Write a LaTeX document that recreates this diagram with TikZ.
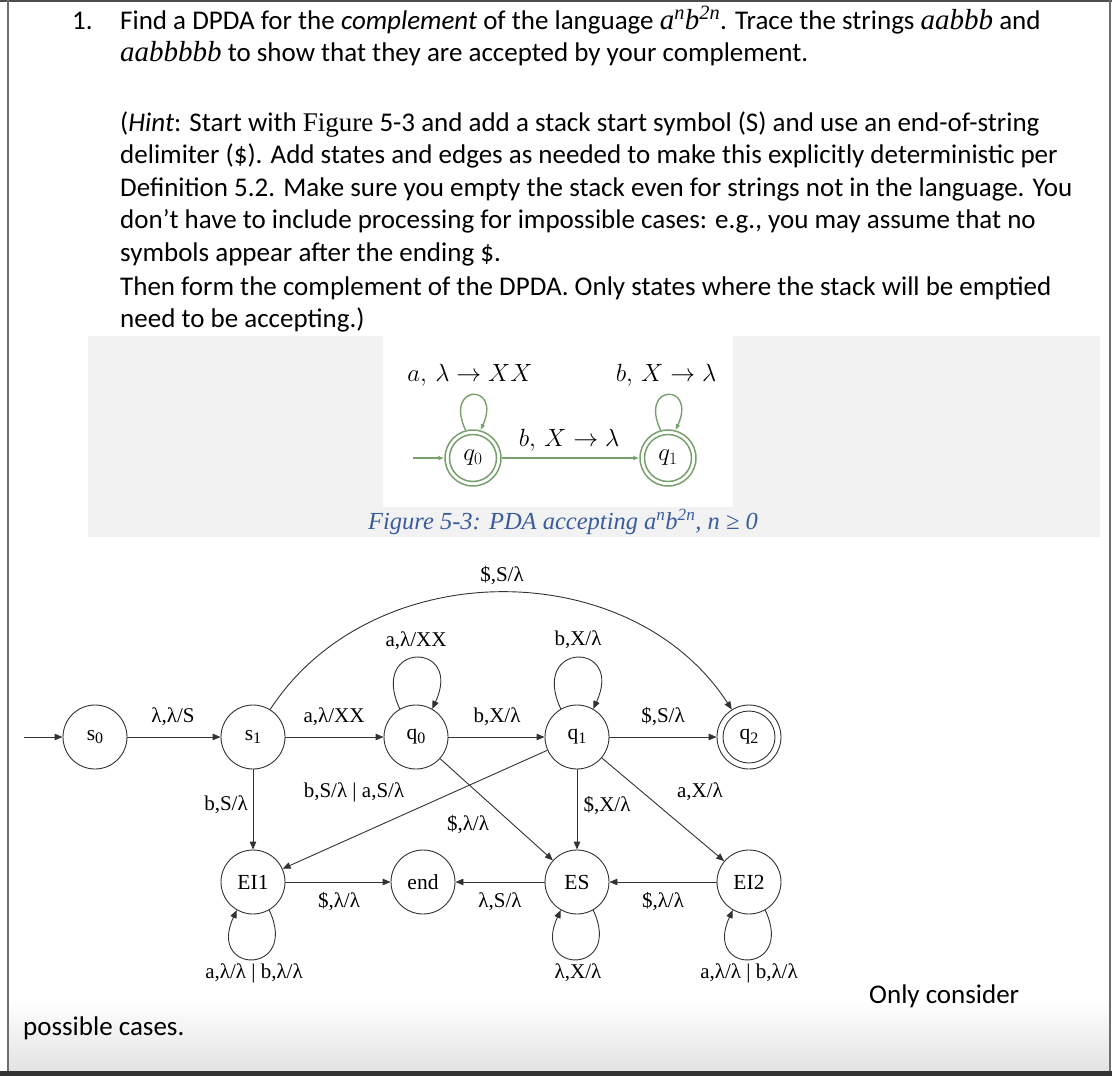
\documentclass[tikz,border=0pt]{standalone}
\usepackage{fontspec}
\setmainfont{Carlito}
\newfontfamily\tms{Liberation Serif}
\usetikzlibrary{arrows.meta}
\definecolor{figgreen}{RGB}{120,160,108}
\definecolor{capblue}{RGB}{58,92,158}
\definecolor{boxgray}{RGB}{242,242,242}
\definecolor{ink}{RGB}{50,50,50}
\definecolor{framegray}{RGB}{110,110,110}
\newcommand\lowsub[1]{\raisebox{-3.5pt}{\fontsize{16}{16}\selectfont #1}}
\newcommand\mth[1]{{\tms\itshape\fontsize{29}{32}\selectfont #1}}
\begin{document}
\begin{tikzpicture}[x=1pt,y=1pt,
  txt/.style={anchor=base west,inner sep=0pt,font=\fontsize{27}{32}\selectfont,text=black},
  st/.style={circle,draw=ink,line width=0.9pt,minimum size=64pt,inner sep=0pt,font=\tms\fontsize{21.5}{24}\selectfont,text=black},
  lab/.style={inner sep=0pt,font=\tms\fontsize{21}{24}\selectfont,text=black},
  arr/.style={draw=ink,line width=0.9pt,-{Triangle[length=8pt,width=6.5pt]}},
  gst/.style={circle,draw=figgreen,line width=1.5pt,minimum size=56pt,inner sep=0pt,font=\fontsize{23}{26}\selectfont},
  garr/.style={draw=figgreen,line width=1.4pt,-{Latex[length=6pt,width=5pt]}},
  glab/.style={inner sep=0pt,font=\fontsize{24}{28}\selectfont},
]
\useasboundingbox (0,0) rectangle (1112,-1076);
\fill[white] (0,0) rectangle (1112,-1076);
\shade[top color=white,bottom color=black!11] (8,-1000) rectangle (1109,-1071);
\fill[boxgray] (88,-336) rectangle (1100,-537);
\fill[white] (383,-336) rectangle (733,-507);
\fill[black!80] (0,-1071) rectangle (1112,-1076);
\fill[black!70] (0,0) rectangle (1112,-2);
\draw[framegray,line width=2pt] (7.7,0) -- (7.7,-1071);
\draw[framegray,line width=2pt] (1109.5,0) -- (1109.5,-1071);

% ---- text ----
\node[txt] (n1) at (72,-29) {1.};
\node[txt] (t1) at (120,-29) {Find a DPDA for the \emph{complement} of the language \mth{a\textsuperscript{n}b\textsuperscript{2n}}. Trace the strings \mth{aabbb} and};
\node[txt] (t2) at (120,-61.5) {\mth{aabbbbb} to show that they are accepted by your complement.};
\node[txt] (h1) at (120,-131) {(\emph{Hint}: Start with {\tms Figure} 5-3 and add a stack start symbol (S) and use an end-of-string};
\node[txt] (h2) at (120,-163.5) {delimiter (\$). Add states and edges as needed to make this explicitly deterministic per};
\node[txt] (h3) at (120,-196) {Definition 5.2. Make sure you empty the stack even for strings not in the language. You};
\node[txt] (h4) at (120,-228.5) {don’t have to include processing for impossible cases: e.g., you may assume that no};
\node[txt] (h5) at (120,-261) {symbols appear after the ending \$.};
\node[txt] (h6) at (120,-295) {Then form the complement of the DPDA. Only states where the stack will be emptied};
\node[txt] (h7) at (120,-327) {need to be accepting.)};
\node[txt] (oc) at (869,-1003) {Only consider};
\node[txt] (pc) at (23,-1035) {possible cases.};

% ---- Figure 5-3 ----
\node[gst] (fq0) at (473,-458) {$q_0$};
\node[gst] (fq1) at (668,-458) {$q_1$};
\draw[figgreen,line width=1.5pt] (fq0) circle (23.5);
\draw[figgreen,line width=1.5pt] (fq1) circle (23.5);
\coordinate (fin) at (413,-458);
\draw[garr] (fin) -- (fq0);
\draw[garr] (fq0) -- (fq1);
\draw[garr] (fq0.105) to[out=115,in=65,distance=52pt] (fq0.75);
\draw[garr] (fq1.105) to[out=115,in=65,distance=52pt] (fq1.75);
\node[glab] (fl1) at (470,-375) {$a,\,\lambda\to XX$};
\node[glab] (fl2) at (666,-375) {$b,\,X\to\lambda$};
\node[glab] (fl3) at (569,-440) {$b,\,X\to\lambda$};
\node[font=\tms\itshape\fontsize{24.5}{28}\selectfont,text=capblue,inner sep=0pt] (cap) at (563,-522) {Figure 5-3: PDA accepting a\textsuperscript{n}b\textsuperscript{2n}, n ≥ 0};

% ---- DPDA ----
\node[st] (s0) at (95,-737) {s\lowsub{0}};
\node[st] (s1) at (253,-737) {s\lowsub{1}};
\node[st] (q0) at (416,-737) {q\lowsub{0}};
\node[st] (q1) at (577,-737) {q\lowsub{1}};
\node[st] (q2) at (749,-737) {q\lowsub{2}};
\draw[ink,line width=0.9pt] (q2) circle (26);
\node[st] (EI1) at (253,-882) {EI1};
\node[st] (endst) at (423,-882) {end};
\node[st] (ES) at (577,-882) {ES};
\node[st] (EI2) at (749,-882) {EI2};

\coordinate (init) at (24,-737);
\draw[arr] (init) -- (s0);
\draw[arr] (s0) -- (s1);
\draw[arr] (s1) -- (q0);
\draw[arr] (q0) -- (q1);
\draw[arr] (q1) -- (q2);
\draw[arr] (s1.58) to[out=57,in=123,distance=186pt] (q2.122);
\draw[arr] (q0.120) to[out=115,in=65,distance=75pt] (q0.60);
\draw[arr] (q1.120) to[out=115,in=65,distance=75pt] (q1.60);
\draw[arr] (s1) -- (EI1);
\draw[arr] (q1) -- (EI1);
\draw[arr] (q0) -- (ES);
\draw[arr] (q1) -- (ES);
\draw[arr] (q1) -- (EI2);
\draw[arr] (EI1) -- (endst);
\draw[arr] (ES) -- (endst);
\draw[arr] (EI2) -- (ES);
\draw[arr] (EI1.-60) to[out=-65,in=-115,distance=72pt] (EI1.-120);
\draw[arr] (ES.-60) to[out=-65,in=-115,distance=72pt] (ES.-120);
\draw[arr] (EI2.-60) to[out=-65,in=-115,distance=72pt] (EI2.-120);

\node[lab] (l1) at (173,-717) {λ,λ/S};
\node[lab] (l2) at (334,-717) {a,λ/XX};
\node[lab] (l3) at (497,-717) {b,X/λ};
\node[lab] (l4) at (663,-717) {\$,S/λ};
\node[lab] (l5) at (502,-576) {\$,S/λ};
\node[lab] (l6) at (416,-641) {a,λ/XX};
\node[lab] (l7) at (578,-640) {b,X/λ};
\node[lab] (l8) at (226,-805) {b,S/λ};
\node[lab] (l9) at (354,-792) {b,S/λ | a,S/λ};
\node[lab] (l10) at (468,-825) {\$,λ/λ};
\node[lab] (l11) at (607,-806) {\$,X/λ};
\node[lab] (l12) at (700,-792) {a,X/λ};
\node[lab] (l13) at (339,-902) {\$,λ/λ};
\node[lab] (l14) at (500,-902) {λ,S/λ};
\node[lab] (l15) at (663,-902) {\$,λ/λ};
\node[lab] (l16) at (254,-973) {a,λ/λ | b,λ/λ};
\node[lab] (l17) at (578,-973) {λ,X/λ};
\node[lab] (l18) at (749,-973) {a,λ/λ | b,λ/λ};
\end{tikzpicture}
\end{document}
